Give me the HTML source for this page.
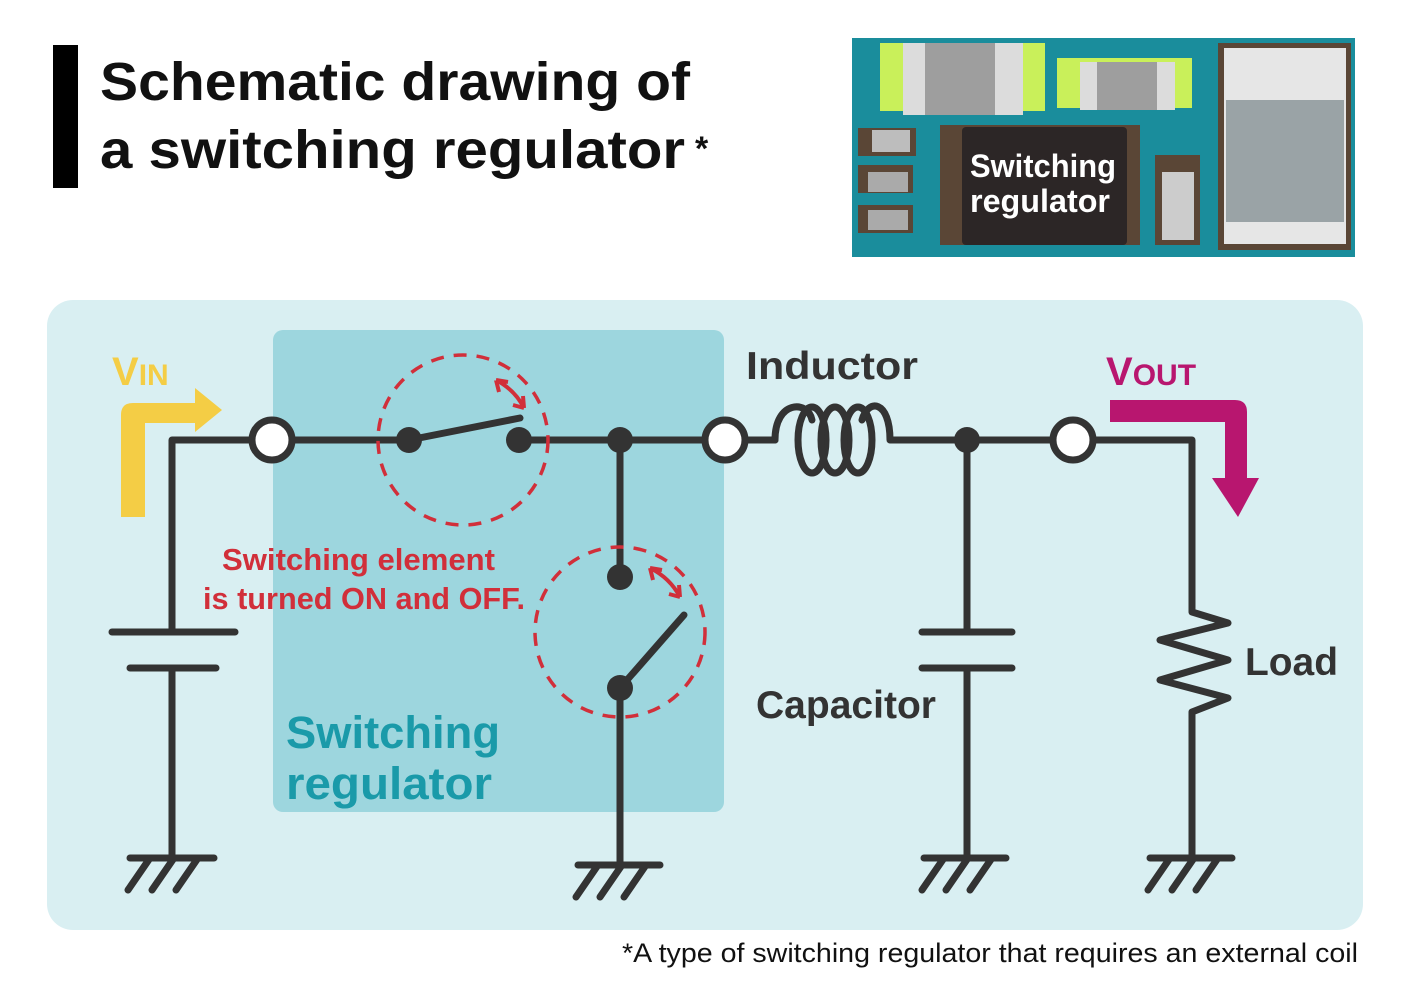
<!DOCTYPE html>
<html><head><meta charset="utf-8"><style>
body{margin:0;background:#fff;}
svg{display:block;font-family:"Liberation Sans",sans-serif;}
</style></head><body>
<svg width="1411" height="982" viewBox="0 0 1411 982" xmlns="http://www.w3.org/2000/svg">
<rect x="53" y="45" width="25" height="143" fill="#000"/>
<text x="100" y="100" font-size="54" font-weight="bold" fill="#111" textLength="590" lengthAdjust="spacingAndGlyphs">Schematic drawing of</text>
<text x="100" y="168" font-size="54" font-weight="bold" fill="#111" textLength="585" lengthAdjust="spacingAndGlyphs">a switching regulator</text>
<text x="695" y="160" font-size="34" font-weight="bold" fill="#111">*</text>

<!-- photo -->
<rect x="852" y="38" width="503" height="219" fill="#1a8d9c"/>
<rect x="880" y="43" width="165" height="68" fill="#c9f05a"/>
<rect x="903" y="43" width="120" height="72" fill="#dcdcdc"/><rect x="925" y="43" width="70" height="72" fill="#9e9e9e"/>
<rect x="1057" y="58" width="135" height="50" fill="#c9f05a"/>
<rect x="1080" y="62" width="95" height="48" fill="#dcdcdc"/><rect x="1097" y="62" width="60" height="48" fill="#9e9e9e"/>
<rect x="1218" y="43" width="133" height="207" fill="#5a4636"/>
<rect x="1224" y="48" width="122" height="196" fill="#e6e6e6"/>
<rect x="1226" y="100" width="118" height="122" fill="#9aa3a6"/>
<rect x="940" y="125" width="200" height="120" fill="#5a4636"/>
<rect x="962" y="127" width="165" height="118" rx="4" fill="#2c2626"/>
<text x="970" y="177" font-size="32" font-weight="bold" fill="#fff" textLength="146" lengthAdjust="spacingAndGlyphs">Switching</text>
<text x="970" y="212" font-size="32" font-weight="bold" fill="#fff" textLength="140" lengthAdjust="spacingAndGlyphs">regulator</text>
<rect x="858" y="128" width="58" height="28" fill="#5a4636"/><rect x="872" y="130" width="38" height="22" fill="#bdbdbd"/>
<rect x="858" y="165" width="55" height="28" fill="#5a4636"/><rect x="868" y="172" width="40" height="20" fill="#aaa"/>
<rect x="858" y="205" width="55" height="28" fill="#5a4636"/><rect x="868" y="210" width="40" height="20" fill="#aaa"/>
<rect x="1155" y="155" width="45" height="90" fill="#5a4636"/><rect x="1162" y="172" width="32" height="68" fill="#ccc"/>

<!-- panel -->
<rect x="47" y="300" width="1316" height="630" rx="26" fill="#d9eff2"/>
<rect x="273" y="330" width="451" height="482" rx="10" fill="#9dd6de"/>

<g stroke="#333" stroke-width="7" fill="none" stroke-linecap="round" stroke-linejoin="round">
<path d="M172 858 V668 M130 668 H216 M112 632 H235 M172 632 V440 H409"/>
<path d="M409 440 L520 418"/>
<path d="M519 440 H775"/>
<path d="M620 440 V577"/>
<path d="M620 688 L684 615"/>
<path d="M620 688 V865"/>
<path d="M775 440 C775 400 808 400 812 420"/>
<ellipse cx="812" cy="440" rx="14" ry="33"/>
<ellipse cx="835" cy="440" rx="14" ry="33"/>
<ellipse cx="858" cy="440" rx="14" ry="33"/>
<path d="M862 420 C868 398 890 400 890 440 H1192 V612 L1228 623 L1160 640 L1228 660 L1160 680 L1228 698 L1192 712 V858"/>
<path d="M967 440 V632 M922 632 H1012 M922 668 H1012 M967 668 V858"/>
<path d="M130 858 H214 M150 858 L128 890 M174 858 L152 890 M198 858 L176 890"/>
<path d="M578 865 H660 M598 865 L576 897 M622 865 L600 897 M646 865 L624 897"/>
<path d="M924 858 H1006 M944 858 L922 890 M968 858 L946 890 M992 858 L970 890"/>
<path d="M1150 858 H1232 M1170 858 L1148 890 M1194 858 L1172 890 M1218 858 L1196 890"/>
</g>
<g fill="#333">
<circle cx="409" cy="440" r="13"/><circle cx="519" cy="440" r="13"/>
<circle cx="620" cy="440" r="13"/><circle cx="620" cy="577" r="13"/><circle cx="620" cy="688" r="13"/>
<circle cx="967" cy="440" r="13"/>
</g>
<g fill="#fff" stroke="#333" stroke-width="7">
<circle cx="272" cy="440" r="20"/><circle cx="725" cy="440" r="20"/><circle cx="1073" cy="440" r="20"/>
</g>
<g fill="none" stroke="#d12f3a" stroke-width="3.5" stroke-dasharray="13 10">
<circle cx="463" cy="440" r="85"/><circle cx="620" cy="632" r="85"/>
</g>
<g fill="none" stroke="#d12f3a" stroke-width="4">
<path d="M496 380 Q515 390 524 408 M496 380 l3 12 M496 380 l12 2 M524 408 l-1 -12 M524 408 l-11 -3"/>
<path d="M650 568 Q670 578 680 597 M650 568 l3 12 M650 568 l12 2 M680 597 l-1 -12 M680 597 l-11 -3"/>
</g>

<!-- arrows -->
<path d="M121 517 V415 Q121 403 133 403 H195 V388 L222 410 L195 432 V423 H145 V517 Z" fill="#f4cd45"/>
<path d="M1110 400 H1235 Q1247 400 1247 412 V478 H1259 L1238 517 L1212 478 H1225 V422 H1110 Z" fill="#b8166f"/>

<text x="112" y="385" font-size="40" font-weight="bold" fill="#f4cd45">V<tspan font-size="30">IN</tspan></text>
<text x="1106" y="385" font-size="40" font-weight="bold" fill="#b8166f">V<tspan font-size="30">OUT</tspan></text>
<text x="746" y="379" font-size="39" font-weight="bold" fill="#333" textLength="172" lengthAdjust="spacingAndGlyphs">Inductor</text>
<text x="756" y="718" font-size="39" font-weight="bold" fill="#333" textLength="180" lengthAdjust="spacingAndGlyphs">Capacitor</text>
<text x="1245" y="675" font-size="39" font-weight="bold" fill="#333" textLength="93" lengthAdjust="spacingAndGlyphs">Load</text>
<text x="286" y="748" font-size="45" font-weight="bold" fill="#1a9aa9" textLength="214" lengthAdjust="spacingAndGlyphs">Switching</text>
<text x="286" y="799" font-size="45" font-weight="bold" fill="#1a9aa9" textLength="206" lengthAdjust="spacingAndGlyphs">regulator</text>
<text x="222" y="570" font-size="31" font-weight="bold" fill="#d12f3a" textLength="273" lengthAdjust="spacingAndGlyphs">Switching element</text>
<text x="203" y="609" font-size="31" font-weight="bold" fill="#d12f3a" textLength="322" lengthAdjust="spacingAndGlyphs">is turned ON and OFF.</text>
<text x="1358" y="962" font-size="27" fill="#111" text-anchor="end" textLength="736" lengthAdjust="spacingAndGlyphs">*A type of switching regulator that requires an external coil</text>
</svg>
</body></html>
